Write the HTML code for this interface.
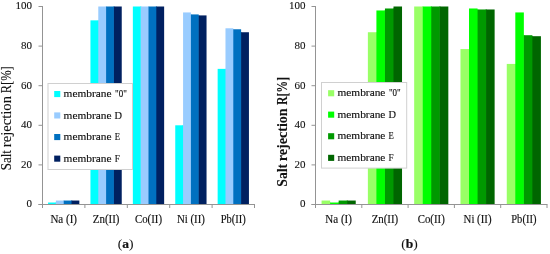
<!DOCTYPE html>
<html lang="en">
<head>
<meta charset="utf-8">
<title>Salt rejection charts</title>
<style>
html,body{margin:0;padding:0;background:#fff;}
body{width:550px;height:254px;overflow:hidden;}
svg{display:block;}
text{font-family:"Liberation Serif","DejaVu Serif",serif;fill:#111;stroke:#111;stroke-width:0.15px;}
.tk{font-size:11px;stroke-width:0.1px;}
.ct{font-size:11.5px;}
.lg{font-size:10.7px;}
.yl{font-size:14px;stroke-width:0.1px;}
.pl{font-size:13.5px;stroke-width:0.05px;}
.pl tspan{stroke-width:0.2px;}
</style>
</head>
<body>
<svg width="550" height="254" viewBox="0 0 550 254">
<rect x="0" y="0" width="550" height="254" fill="#ffffff"/>
<g id="chart-a">
<rect x="55.38" y="202.52" width="1.2" height="1.98" fill="#00ffff"/>
<rect x="48.05" y="202.52" width="7.82" height="1.98" fill="#00ffff"/>
<rect x="63.20" y="200.54" width="1.2" height="3.96" fill="#99ccff"/>
<rect x="55.88" y="200.54" width="7.82" height="3.96" fill="#99ccff"/>
<rect x="71.02" y="200.54" width="1.2" height="3.96" fill="#0070c0"/>
<rect x="63.70" y="200.54" width="7.82" height="3.96" fill="#0070c0"/>
<rect x="71.52" y="200.54" width="7.82" height="3.96" fill="#002060"/>
<rect x="97.78" y="20.36" width="1.2" height="184.14" fill="#00ffff"/>
<rect x="90.45" y="20.36" width="7.82" height="184.14" fill="#00ffff"/>
<rect x="105.60" y="6.50" width="1.2" height="198.00" fill="#99ccff"/>
<rect x="98.28" y="6.50" width="7.82" height="198.00" fill="#99ccff"/>
<rect x="113.42" y="6.50" width="1.2" height="198.00" fill="#0070c0"/>
<rect x="106.10" y="6.50" width="7.82" height="198.00" fill="#0070c0"/>
<rect x="113.92" y="6.50" width="7.82" height="198.00" fill="#002060"/>
<rect x="140.18" y="6.50" width="1.2" height="198.00" fill="#00ffff"/>
<rect x="132.85" y="6.50" width="7.82" height="198.00" fill="#00ffff"/>
<rect x="148.00" y="6.50" width="1.2" height="198.00" fill="#99ccff"/>
<rect x="140.68" y="6.50" width="7.82" height="198.00" fill="#99ccff"/>
<rect x="155.82" y="6.50" width="1.2" height="198.00" fill="#0070c0"/>
<rect x="148.50" y="6.50" width="7.82" height="198.00" fill="#0070c0"/>
<rect x="156.32" y="6.50" width="7.82" height="198.00" fill="#002060"/>
<rect x="182.58" y="125.30" width="1.2" height="79.20" fill="#00ffff"/>
<rect x="175.25" y="125.30" width="7.82" height="79.20" fill="#00ffff"/>
<rect x="190.40" y="14.42" width="1.2" height="190.08" fill="#99ccff"/>
<rect x="183.08" y="12.44" width="7.82" height="192.06" fill="#99ccff"/>
<rect x="198.22" y="15.41" width="1.2" height="189.09" fill="#0070c0"/>
<rect x="190.90" y="14.42" width="7.82" height="190.08" fill="#0070c0"/>
<rect x="198.72" y="15.41" width="7.82" height="189.09" fill="#002060"/>
<rect x="224.98" y="68.87" width="1.2" height="135.63" fill="#00ffff"/>
<rect x="217.65" y="68.87" width="7.82" height="135.63" fill="#00ffff"/>
<rect x="232.80" y="29.27" width="1.2" height="175.23" fill="#99ccff"/>
<rect x="225.48" y="28.28" width="7.82" height="176.22" fill="#99ccff"/>
<rect x="240.62" y="32.24" width="1.2" height="172.26" fill="#0070c0"/>
<rect x="233.30" y="29.27" width="7.82" height="175.23" fill="#0070c0"/>
<rect x="241.12" y="32.24" width="7.82" height="172.26" fill="#002060"/>
<line x1="42.5" y1="6.0" x2="42.5" y2="208.0" stroke="#949494" stroke-width="1"/>
<line x1="38.5" y1="204.5" x2="255.0" y2="204.5" stroke="#949494" stroke-width="1"/>
<line x1="38.5" y1="204.50" x2="42.5" y2="204.50" stroke="#949494" stroke-width="1"/>
<text x="32" y="207.40" text-anchor="end" class="tk">0</text>
<line x1="38.5" y1="164.90" x2="42.5" y2="164.90" stroke="#949494" stroke-width="1"/>
<text x="32" y="167.80" text-anchor="end" class="tk">20</text>
<line x1="38.5" y1="125.30" x2="42.5" y2="125.30" stroke="#949494" stroke-width="1"/>
<text x="32" y="128.20" text-anchor="end" class="tk">40</text>
<line x1="38.5" y1="85.70" x2="42.5" y2="85.70" stroke="#949494" stroke-width="1"/>
<text x="32" y="88.60" text-anchor="end" class="tk">60</text>
<line x1="38.5" y1="46.10" x2="42.5" y2="46.10" stroke="#949494" stroke-width="1"/>
<text x="32" y="49.00" text-anchor="end" class="tk">80</text>
<line x1="38.5" y1="6.50" x2="42.5" y2="6.50" stroke="#949494" stroke-width="1"/>
<text x="32" y="9.40" text-anchor="end" class="tk">100</text>
<line x1="42.50" y1="204.5" x2="42.50" y2="208.0" stroke="#949494" stroke-width="1"/>
<line x1="84.90" y1="204.5" x2="84.90" y2="208.0" stroke="#949494" stroke-width="1"/>
<line x1="127.30" y1="204.5" x2="127.30" y2="208.0" stroke="#949494" stroke-width="1"/>
<line x1="169.70" y1="204.5" x2="169.70" y2="208.0" stroke="#949494" stroke-width="1"/>
<line x1="212.10" y1="204.5" x2="212.10" y2="208.0" stroke="#949494" stroke-width="1"/>
<line x1="254.50" y1="204.5" x2="254.50" y2="208.0" stroke="#949494" stroke-width="1"/>
<text x="63.70" y="223" text-anchor="middle" class="ct" textLength="26.6" lengthAdjust="spacingAndGlyphs">Na (I)</text>
<text x="106.10" y="223" text-anchor="middle" class="ct" textLength="26.6" lengthAdjust="spacingAndGlyphs">Zn(II)</text>
<text x="148.50" y="223" text-anchor="middle" class="ct" textLength="27.0" lengthAdjust="spacingAndGlyphs">Co(II)</text>
<text x="190.90" y="223" text-anchor="middle" class="ct" textLength="28" lengthAdjust="spacingAndGlyphs">Ni (II)</text>
<text x="233.30" y="223" text-anchor="middle" class="ct" textLength="25.2" lengthAdjust="spacingAndGlyphs">Pb(II)</text>
<rect x="48" y="83.5" width="84.5" height="86" fill="#fff" stroke="#d0d0d0" stroke-width="1"/>
<rect x="54.20" y="91.00" width="6.1" height="6.1" fill="#00ffff"/>
<text x="63.60" y="97.10" class="lg" textLength="47.9" lengthAdjust="spacingAndGlyphs">membrane</text>
<text x="115.00" y="97.10" class="lg" textLength="11.8" lengthAdjust="spacingAndGlyphs">"0"</text>
<rect x="54.20" y="112.40" width="6.1" height="6.1" fill="#99ccff"/>
<text x="63.60" y="118.50" class="lg" textLength="47.9" lengthAdjust="spacingAndGlyphs">membrane</text>
<text x="114.50" y="118.50" class="lg" textLength="7.5" lengthAdjust="spacingAndGlyphs">D</text>
<rect x="54.20" y="134.00" width="6.1" height="6.1" fill="#0070c0"/>
<text x="63.60" y="140.10" class="lg" textLength="47.9" lengthAdjust="spacingAndGlyphs">membrane</text>
<text x="114.70" y="140.10" class="lg" textLength="5.3" lengthAdjust="spacingAndGlyphs">E</text>
<rect x="54.20" y="155.60" width="6.1" height="6.1" fill="#002060"/>
<text x="63.60" y="161.70" class="lg" textLength="47.9" lengthAdjust="spacingAndGlyphs">membrane</text>
<text x="114.70" y="161.70" class="lg" textLength="5.1" lengthAdjust="spacingAndGlyphs">F</text>
<text transform="translate(11.0,170.3) rotate(-90)" class="yl" textLength="20.2" lengthAdjust="spacingAndGlyphs">Salt</text>
<text transform="translate(11.0,147.2) rotate(-90)" class="yl" textLength="51.2" lengthAdjust="spacingAndGlyphs">rejection</text>
<text transform="translate(11.0,93.2) rotate(-90)" class="yl" textLength="26.8" lengthAdjust="spacingAndGlyphs">R[%]</text>
<text x="125.6" y="248.1" text-anchor="middle" class="pl">(<tspan font-weight="bold">a</tspan>)</text>
</g>
<g id="chart-b">
<rect x="329.61" y="202.52" width="1.2" height="1.98" fill="#99ff66"/>
<rect x="321.57" y="200.54" width="8.54" height="3.96" fill="#99ff66"/>
<rect x="338.15" y="202.52" width="1.2" height="1.98" fill="#00ff00"/>
<rect x="330.11" y="202.52" width="8.54" height="1.98" fill="#00ff00"/>
<rect x="346.69" y="200.54" width="1.2" height="3.96" fill="#009900"/>
<rect x="338.65" y="200.54" width="8.54" height="3.96" fill="#009900"/>
<rect x="347.19" y="200.54" width="8.54" height="3.96" fill="#006600"/>
<rect x="375.91" y="32.24" width="1.2" height="172.26" fill="#99ff66"/>
<rect x="367.87" y="32.24" width="8.54" height="172.26" fill="#99ff66"/>
<rect x="384.45" y="10.46" width="1.2" height="194.04" fill="#00ff00"/>
<rect x="376.41" y="10.46" width="8.54" height="194.04" fill="#00ff00"/>
<rect x="392.99" y="8.48" width="1.2" height="196.02" fill="#009900"/>
<rect x="384.95" y="8.48" width="8.54" height="196.02" fill="#009900"/>
<rect x="393.49" y="6.50" width="8.54" height="198.00" fill="#006600"/>
<rect x="422.21" y="6.50" width="1.2" height="198.00" fill="#99ff66"/>
<rect x="414.17" y="6.50" width="8.54" height="198.00" fill="#99ff66"/>
<rect x="430.75" y="6.50" width="1.2" height="198.00" fill="#00ff00"/>
<rect x="422.71" y="6.50" width="8.54" height="198.00" fill="#00ff00"/>
<rect x="439.29" y="6.50" width="1.2" height="198.00" fill="#009900"/>
<rect x="431.25" y="6.50" width="8.54" height="198.00" fill="#009900"/>
<rect x="439.79" y="6.50" width="8.54" height="198.00" fill="#006600"/>
<rect x="468.51" y="49.07" width="1.2" height="155.43" fill="#99ff66"/>
<rect x="460.47" y="49.07" width="8.54" height="155.43" fill="#99ff66"/>
<rect x="477.05" y="9.47" width="1.2" height="195.03" fill="#00ff00"/>
<rect x="469.01" y="8.48" width="8.54" height="196.02" fill="#00ff00"/>
<rect x="485.59" y="9.47" width="1.2" height="195.03" fill="#009900"/>
<rect x="477.55" y="9.47" width="8.54" height="195.03" fill="#009900"/>
<rect x="486.09" y="9.47" width="8.54" height="195.03" fill="#006600"/>
<rect x="514.81" y="63.92" width="1.2" height="140.58" fill="#99ff66"/>
<rect x="506.77" y="63.92" width="8.54" height="140.58" fill="#99ff66"/>
<rect x="523.35" y="35.21" width="1.2" height="169.29" fill="#00ff00"/>
<rect x="515.31" y="12.44" width="8.54" height="192.06" fill="#00ff00"/>
<rect x="531.89" y="36.20" width="1.2" height="168.30" fill="#009900"/>
<rect x="523.85" y="35.21" width="8.54" height="169.29" fill="#009900"/>
<rect x="532.39" y="36.20" width="8.54" height="168.30" fill="#006600"/>
<line x1="315.5" y1="6.0" x2="315.5" y2="208.0" stroke="#949494" stroke-width="1"/>
<line x1="311.5" y1="204.5" x2="547.5" y2="204.5" stroke="#949494" stroke-width="1"/>
<line x1="311.5" y1="204.50" x2="315.5" y2="204.50" stroke="#949494" stroke-width="1"/>
<text x="305.5" y="207.40" text-anchor="end" class="tk">0</text>
<line x1="311.5" y1="164.90" x2="315.5" y2="164.90" stroke="#949494" stroke-width="1"/>
<text x="305.5" y="167.80" text-anchor="end" class="tk">20</text>
<line x1="311.5" y1="125.30" x2="315.5" y2="125.30" stroke="#949494" stroke-width="1"/>
<text x="305.5" y="128.20" text-anchor="end" class="tk">40</text>
<line x1="311.5" y1="85.70" x2="315.5" y2="85.70" stroke="#949494" stroke-width="1"/>
<text x="305.5" y="88.60" text-anchor="end" class="tk">60</text>
<line x1="311.5" y1="46.10" x2="315.5" y2="46.10" stroke="#949494" stroke-width="1"/>
<text x="305.5" y="49.00" text-anchor="end" class="tk">80</text>
<line x1="311.5" y1="6.50" x2="315.5" y2="6.50" stroke="#949494" stroke-width="1"/>
<text x="305.5" y="9.40" text-anchor="end" class="tk">100</text>
<line x1="315.50" y1="204.5" x2="315.50" y2="208.0" stroke="#949494" stroke-width="1"/>
<line x1="361.80" y1="204.5" x2="361.80" y2="208.0" stroke="#949494" stroke-width="1"/>
<line x1="408.10" y1="204.5" x2="408.10" y2="208.0" stroke="#949494" stroke-width="1"/>
<line x1="454.40" y1="204.5" x2="454.40" y2="208.0" stroke="#949494" stroke-width="1"/>
<line x1="500.70" y1="204.5" x2="500.70" y2="208.0" stroke="#949494" stroke-width="1"/>
<line x1="547.00" y1="204.5" x2="547.00" y2="208.0" stroke="#949494" stroke-width="1"/>
<text x="338.65" y="223" text-anchor="middle" class="ct" textLength="26.6" lengthAdjust="spacingAndGlyphs">Na (I)</text>
<text x="384.95" y="223" text-anchor="middle" class="ct" textLength="26.6" lengthAdjust="spacingAndGlyphs">Zn(II)</text>
<text x="431.25" y="223" text-anchor="middle" class="ct" textLength="27.0" lengthAdjust="spacingAndGlyphs">Co(II)</text>
<text x="477.55" y="223" text-anchor="middle" class="ct" textLength="28" lengthAdjust="spacingAndGlyphs">Ni (II)</text>
<text x="523.85" y="223" text-anchor="middle" class="ct" textLength="25.2" lengthAdjust="spacingAndGlyphs">Pb(II)</text>
<rect x="321.5" y="82.5" width="85.2" height="85.6" fill="#fff" stroke="#d0d0d0" stroke-width="1"/>
<rect x="328.10" y="90.20" width="6.1" height="6.1" fill="#99ff66"/>
<text x="337.50" y="96.30" class="lg" textLength="47.9" lengthAdjust="spacingAndGlyphs">membrane</text>
<text x="388.90" y="96.30" class="lg" textLength="11.8" lengthAdjust="spacingAndGlyphs">"0"</text>
<rect x="328.10" y="111.60" width="6.1" height="6.1" fill="#00ff00"/>
<text x="337.50" y="117.70" class="lg" textLength="47.9" lengthAdjust="spacingAndGlyphs">membrane</text>
<text x="388.40" y="117.70" class="lg" textLength="7.5" lengthAdjust="spacingAndGlyphs">D</text>
<rect x="328.10" y="133.20" width="6.1" height="6.1" fill="#009900"/>
<text x="337.50" y="139.30" class="lg" textLength="47.9" lengthAdjust="spacingAndGlyphs">membrane</text>
<text x="388.60" y="139.30" class="lg" textLength="5.3" lengthAdjust="spacingAndGlyphs">E</text>
<rect x="328.10" y="154.80" width="6.1" height="6.1" fill="#006600"/>
<text x="337.50" y="160.90" class="lg" textLength="47.9" lengthAdjust="spacingAndGlyphs">membrane</text>
<text x="388.60" y="160.90" class="lg" textLength="5.1" lengthAdjust="spacingAndGlyphs">F</text>
<text transform="translate(286.6,186.7) rotate(-90)" class="yl" font-weight="bold" textLength="22.8" lengthAdjust="spacingAndGlyphs">Salt</text>
<text transform="translate(286.6,161.2) rotate(-90)" class="yl" font-weight="bold" textLength="52.9" lengthAdjust="spacingAndGlyphs">rejection</text>
<text transform="translate(286.6,105.1) rotate(-90)" class="yl" font-weight="bold" textLength="28.2" lengthAdjust="spacingAndGlyphs">R[%]</text>
<text x="409.5" y="248.1" text-anchor="middle" class="pl">(<tspan font-weight="bold">b</tspan>)</text>
</g>
</svg>
</body>
</html>
